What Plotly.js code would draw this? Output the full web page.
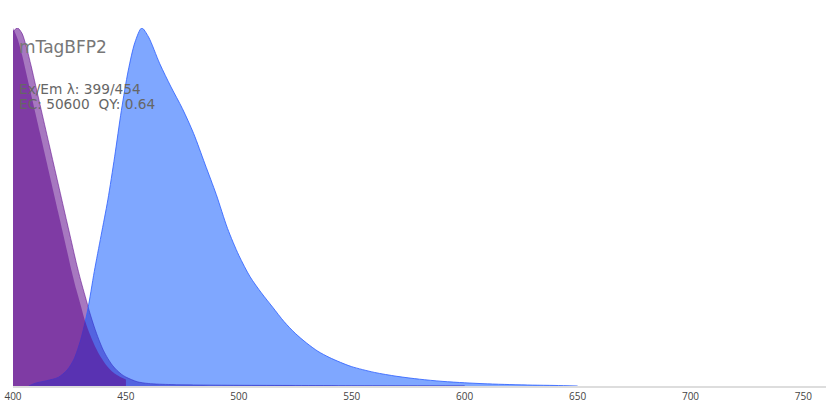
<!DOCTYPE html>
<html>
<head>
<meta charset="utf-8">
<script src="https://cdn.plot.ly/plotly-3.0.1.min.js"></script>
<style>html,body{margin:0;padding:0;background:#fff;}#chart{width:840px;height:420px;}</style>
</head>
<body>
<div id="chart"></div>
<script>
// Absorption-like (outer) purple spectrum
const abX = [400,402,404,406,408,410,412,414,416,418,420,422,424,426,428,430,432,434,436,438,440,442,444,446,448,450,455,460,470,480,500,525,550,575,600];
const abY = [0.99,1.0,0.985,0.945,0.895,0.84,0.785,0.73,0.675,0.62,0.565,0.51,0.455,0.4,0.345,0.295,0.25,0.205,0.165,0.13,0.1,0.077,0.058,0.044,0.033,0.025,0.012,0.007,0.004,0.003,0.002,0.0015,0.001,0.0007,0.0005];

// Excitation spectrum
const exX = [400,402,404,406,408,410,412,414,416,418,420,422,424,426,428,430,432,434,436,438,440,442,444,446,448,450];
const exY = [1.0,0.97,0.925,0.87,0.815,0.76,0.705,0.65,0.595,0.54,0.485,0.43,0.375,0.32,0.27,0.225,0.18,0.145,0.115,0.09,0.07,0.053,0.04,0.031,0.024,0.018];

// Emission spectrum
const emX = [407,410,415,420,424,427,430,433,436,439,442,445,448,451,454,457,460,465,470,475,480,485,490,495,500,505,510,515,520,525,530,535,540,545,550,560,570,580,590,600,610,620,630,640,650];
const emY = [0,0.008,0.015,0.024,0.045,0.075,0.13,0.21,0.32,0.42,0.52,0.64,0.77,0.88,0.96,1.0,0.975,0.9,0.835,0.775,0.705,0.62,0.535,0.44,0.365,0.305,0.26,0.22,0.18,0.147,0.12,0.097,0.08,0.066,0.054,0.038,0.027,0.019,0.013,0.009,0.006,0.004,0.0025,0.0015,0];

const tickVals = [400,450,500,550,600,650,700,750];
const tickText = ['400','450','500','550','600','650','700','750'];

const proteinName = 'mTagBFP2';
const line1 = 'Ex/Em λ: 399/454';
const line2 = 'EC: 50600  QY: 0.64';

const purple = 'rgba(95,10,140,0.55)';

const traces = [
  {x: abX, y: abY, type: 'scatter', mode: 'lines', fill: 'tozeroy',
   fillcolor: purple, line: {color: purple, width: 1, shape: 'spline', smoothing: 0.8}, hoverinfo: 'skip'},
  {x: emX, y: emY, type: 'scatter', mode: 'lines', fill: 'tozeroy',
   fillcolor: 'rgba(0,80,255,0.5)', line: {color: 'rgba(50,100,255,0.85)', width: 1, shape: 'spline', smoothing: 0.8}, hoverinfo: 'skip'},
  {x: exX, y: exY, type: 'scatter', mode: 'lines', fill: 'tozeroy',
   fillcolor: purple, line: {color: purple, width: 0, shape: 'spline', smoothing: 0.8}, hoverinfo: 'skip'}
];

const layout = {
  width: 840, height: 420,
  margin: {l: 13, r: 14, t: 28, b: 34, pad: 0},
  paper_bgcolor: '#fff', plot_bgcolor: '#fff',
  showlegend: false,
  hovermode: false,
  font: {family: 'DejaVu Sans', color: '#444'},
  xaxis: {
    range: [400, 760], tickvals: tickVals, ticktext: tickText,
    showgrid: false, zeroline: false, showline: true,
    linecolor: '#dddddd', linewidth: 2, ticks: '',
    tickfont: {family: 'Open Sans', size: 10, color: '#444'}
  },
  yaxis: {range: [0, 1], visible: false, showgrid: false, zeroline: false},
  annotations: [
    {xref: 'paper', yref: 'paper', x: 0.005, y: 0.947, xanchor: 'left', yanchor: 'middle',
     text: proteinName, showarrow: false, font: {family: 'DejaVu Sans', size: 17, color: '#777'}},
    {xref: 'paper', yref: 'paper', x: 0.005, y: 0.8296, xanchor: 'left', yanchor: 'middle',
     text: line1, showarrow: false, font: {family: 'DejaVu Sans', size: 13.7, color: '#666'}},
    {xref: 'paper', yref: 'paper', x: 0.005, y: 0.7877, xanchor: 'left', yanchor: 'middle',
     text: line2, showarrow: false, font: {family: 'DejaVu Sans', size: 13.7, color: '#666'}}
  ]
};

Plotly.newPlot('chart', traces, layout, {staticPlot: true, displayModeBar: false});
</script>
</body>
</html>
